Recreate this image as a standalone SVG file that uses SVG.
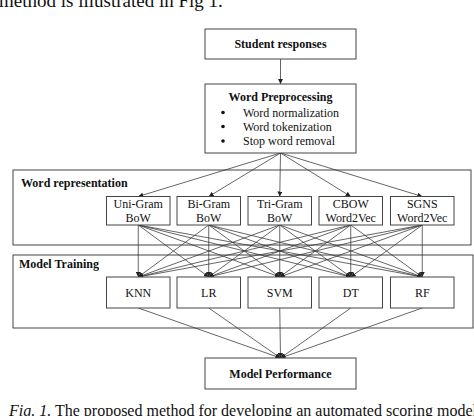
<svg xmlns="http://www.w3.org/2000/svg" width="474" height="416" viewBox="0 0 474 416">
<defs>
<marker id="ah" viewBox="0 0 6 6" refX="6" refY="3" markerWidth="5" markerHeight="5" markerUnits="userSpaceOnUse" orient="auto">
<path d="M0,0 L6,3 L0,6 z" fill="#222"/>
</marker>
<style>
.box{fill:#fff;stroke:#444;stroke-width:1}
.cont{fill:none;stroke:#444;stroke-width:1}
.t{font-family:"Liberation Serif","Times New Roman",serif;fill:#111;text-anchor:middle}
.s{font-family:"Liberation Serif","Times New Roman",serif;fill:#111;font-size:12px}
.b{font-weight:bold;font-size:12px}
.r{font-size:12px}
.lbl{font-family:"Liberation Serif","Times New Roman",serif;fill:#111;font-weight:bold;font-size:12px}
.c line{stroke:#333;stroke-width:0.75;marker-end:url(#ah)}
.body{font-family:"Liberation Serif","Times New Roman",serif;fill:#111}
</style>
</defs>
<rect width="474" height="416" fill="#fff"/>
<text class="body" x="-1" y="7" font-size="19">method is illustrated in Fig 1.</text>
<g id="container-word-representation">
<rect class="cont" x="13" y="170" width="458" height="75"/>
<text class="lbl" x="21" y="187">Word representation</text>
</g>
<g id="container-model-training">
<rect class="cont" x="13" y="255" width="460" height="73"/>
<text class="lbl" x="19" y="268">Model Training</text>
</g>
<g class="c" id="connectors">
<line x1="280.5" y1="59" x2="280.5" y2="84"/>
<line x1="280.5" y1="153" x2="138.25" y2="196.5"/>
<line x1="280.5" y1="153" x2="208.75" y2="196.5"/>
<line x1="280.5" y1="153" x2="279.75" y2="196.5"/>
<line x1="280.5" y1="153" x2="350.75" y2="196.5"/>
<line x1="280.5" y1="153" x2="422.25" y2="196.5"/>
<line x1="138.25" y1="225" x2="138.25" y2="277"/>
<line x1="138.25" y1="225" x2="208.75" y2="277"/>
<line x1="138.25" y1="225" x2="279.75" y2="277"/>
<line x1="138.25" y1="225" x2="350.75" y2="277"/>
<line x1="138.25" y1="225" x2="422.25" y2="277"/>
<line x1="208.75" y1="225" x2="138.25" y2="277"/>
<line x1="208.75" y1="225" x2="208.75" y2="277"/>
<line x1="208.75" y1="225" x2="279.75" y2="277"/>
<line x1="208.75" y1="225" x2="350.75" y2="277"/>
<line x1="208.75" y1="225" x2="422.25" y2="277"/>
<line x1="279.75" y1="225" x2="138.25" y2="277"/>
<line x1="279.75" y1="225" x2="208.75" y2="277"/>
<line x1="279.75" y1="225" x2="279.75" y2="277"/>
<line x1="279.75" y1="225" x2="350.75" y2="277"/>
<line x1="279.75" y1="225" x2="422.25" y2="277"/>
<line x1="350.75" y1="225" x2="138.25" y2="277"/>
<line x1="350.75" y1="225" x2="208.75" y2="277"/>
<line x1="350.75" y1="225" x2="279.75" y2="277"/>
<line x1="350.75" y1="225" x2="350.75" y2="277"/>
<line x1="350.75" y1="225" x2="422.25" y2="277"/>
<line x1="422.25" y1="225" x2="138.25" y2="277"/>
<line x1="422.25" y1="225" x2="208.75" y2="277"/>
<line x1="422.25" y1="225" x2="279.75" y2="277"/>
<line x1="422.25" y1="225" x2="350.75" y2="277"/>
<line x1="422.25" y1="225" x2="422.25" y2="277"/>
<line x1="138.25" y1="308" x2="280.5" y2="358"/>
<line x1="208.75" y1="308" x2="280.5" y2="358"/>
<line x1="279.75" y1="308" x2="280.5" y2="358"/>
<line x1="350.75" y1="308" x2="280.5" y2="358"/>
<line x1="422.25" y1="308" x2="280.5" y2="358"/>
</g>
<g id="student-responses">
<rect class="box" x="205" y="29" width="151" height="30"/>
<text class="t b" x="280.5" y="48">Student responses</text>
</g>
<g id="word-preprocessing">
<rect class="box" x="205" y="84" width="151" height="69"/>
<text class="t b" x="280.5" y="101">Word Preprocessing</text>
<circle cx="223" cy="112.5" r="1.8" fill="#111"/>
<circle cx="223" cy="126.5" r="1.8" fill="#111"/>
<circle cx="223" cy="141" r="1.8" fill="#111"/>
<text class="s" x="243" y="116.5">Word normalization</text>
<text class="s" x="243" y="130.5">Word tokenization</text>
<text class="s" x="243" y="145">Stop word removal</text>
</g>
<g id="uni-gram">
<rect class="box" x="106.5" y="196.5" width="63.5" height="28.5"/>
<text class="t r" x="138.25" y="207.5">Uni-Gram</text>
<text class="t r" x="138.25" y="222">BoW</text>
</g>
<g id="bi-gram">
<rect class="box" x="177" y="196.5" width="63.5" height="28.5"/>
<text class="t r" x="208.75" y="207.5">Bi-Gram</text>
<text class="t r" x="208.75" y="222">BoW</text>
</g>
<g id="tri-gram">
<rect class="box" x="248" y="196.5" width="63.5" height="28.5"/>
<text class="t r" x="279.75" y="207.5">Tri-Gram</text>
<text class="t r" x="279.75" y="222">BoW</text>
</g>
<g id="cbow">
<rect class="box" x="319" y="196.5" width="63.5" height="28.5"/>
<text class="t r" x="350.75" y="207.5">CBOW</text>
<text class="t r" x="350.75" y="222">Word2Vec</text>
</g>
<g id="sgns">
<rect class="box" x="390.5" y="196.5" width="63.5" height="28.5"/>
<text class="t r" x="422.25" y="207.5">SGNS</text>
<text class="t r" x="422.25" y="222">Word2Vec</text>
</g>
<g id="knn">
<rect class="box" x="106.5" y="277" width="63.5" height="31"/>
<text class="t r" x="138.25" y="297">KNN</text>
</g>
<g id="lr">
<rect class="box" x="177" y="277" width="63.5" height="31"/>
<text class="t r" x="208.75" y="297">LR</text>
</g>
<g id="svm">
<rect class="box" x="248" y="277" width="63.5" height="31"/>
<text class="t r" x="279.75" y="297">SVM</text>
</g>
<g id="dt">
<rect class="box" x="319" y="277" width="63.5" height="31"/>
<text class="t r" x="350.75" y="297">DT</text>
</g>
<g id="rf">
<rect class="box" x="390.5" y="277" width="63.5" height="31"/>
<text class="t r" x="422.25" y="297">RF</text>
</g>
<g id="model-performance">
<rect class="box" x="205" y="358" width="151" height="31"/>
<text class="t b" x="280.5" y="378">Model Performance</text>
</g>
<text class="body" x="9" y="416" font-size="16"><tspan font-style="italic">Fig. 1.</tspan> The proposed method for developing an automated scoring model</text>
</svg>
